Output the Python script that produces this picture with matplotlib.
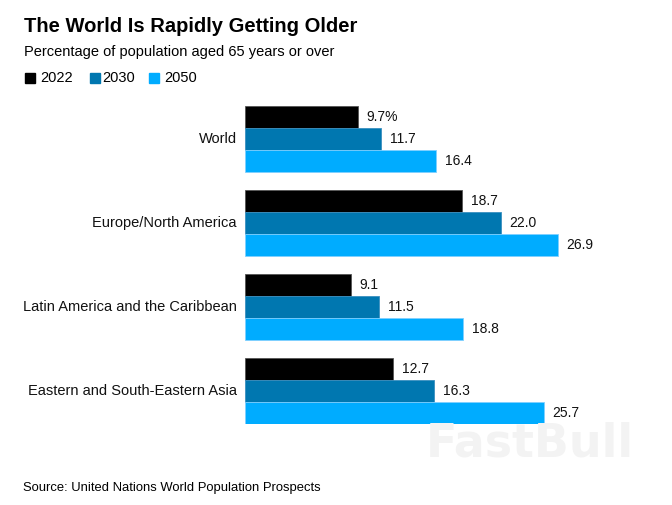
import matplotlib
matplotlib.use("Agg")
import matplotlib.pyplot as plt
import numpy as np

plt.rcParams["font.family"] = ["Liberation Sans", "DejaVu Sans"]

regions = ["World", "Europe/North America", "Latin America and the Caribbean",
           "Eastern and South-Eastern Asia"]
years = ["2022", "2030", "2050"]
v2022 = [9.7, 18.7, 9.1, 12.7]
v2030 = [11.7, 22.0, 11.5, 16.3]
v2050 = [16.4, 26.9, 18.8, 25.7]
colors = ["#000000", "#0077b0", "#00acff"]
edges = ["#555555", "#3a8fc0", "#7fd0ff"]

W, H = 672, 505
fig = plt.figure(figsize=(W / 100, H / 100), dpi=100)
fig.patch.set_facecolor("white")

# faint watermark behind everything
fig.text(530 / W, 1 - 444 / H, "FastBull", fontsize=33, fontweight="bold",
         color="#f3f3f3", va="center", ha="center", zorder=0,
         family=["DejaVu Sans"])

# axes placed in pixel terms: bars start at x=245, span y=106..424
ax = fig.add_axes([245 / W, 1 - 424 / H, 395 / W, 318 / H])
ax.set_xlim(0, 34)
step, bh = 84, 22
ax.set_ylim(3 * step + 1.5 * bh, -1.5 * bh)
ax.axis("off")
ax.patch.set_alpha(0)

centers = np.arange(len(regions)) * step
for k, (vals, c, ec) in enumerate(zip([v2022, v2030, v2050], colors, edges)):
    ys = centers + (k - 1) * bh
    ax.barh(ys, vals, height=bh, color=c, edgecolor=ec, linewidth=0.6)
    for y, v in zip(ys, vals):
        lab = f"{v:.1f}"
        if k == 0 and y == ys[0]:
            lab += "%"
        ax.annotate(lab, (v, y), xytext=(6.5, 0), textcoords="offset points",
                    va="center", ha="left", fontsize=10, color="#111111")

for y, name in zip(centers, regions):
    ax.annotate(name, (0, y), xytext=(-6, 0), textcoords="offset points",
                va="center", ha="right", fontsize=10.55, color="#111111")

fig.text(24 / W, 1 - 27 / H, "The World Is Rapidly Getting Older",
         fontsize=14.5, fontweight="bold", va="center", ha="left")
fig.text(24 / W, 1 - 52 / H, "Percentage of population aged 65 years or over",
         fontsize=10.5, va="center", ha="left")

legend_sq = [25, 90, 149]
legend_tx = [40, 102, 164]
for x, tx, yr, c in zip(legend_sq, legend_tx, years, colors):
    fig.patches.append(plt.Rectangle((x / W, 1 - 83 / H), 10 / W, 10 / H,
                                     transform=fig.transFigure, color=c))
    fig.text(tx / W, 1 - 78 / H, yr, fontsize=10.5, va="center", ha="left")

fig.text(23 / W, 1 - 488 / H, "Source: United Nations World Population Prospects",
         fontsize=9.4, va="center", ha="left")

fig.savefig("out.png", dpi=100)
